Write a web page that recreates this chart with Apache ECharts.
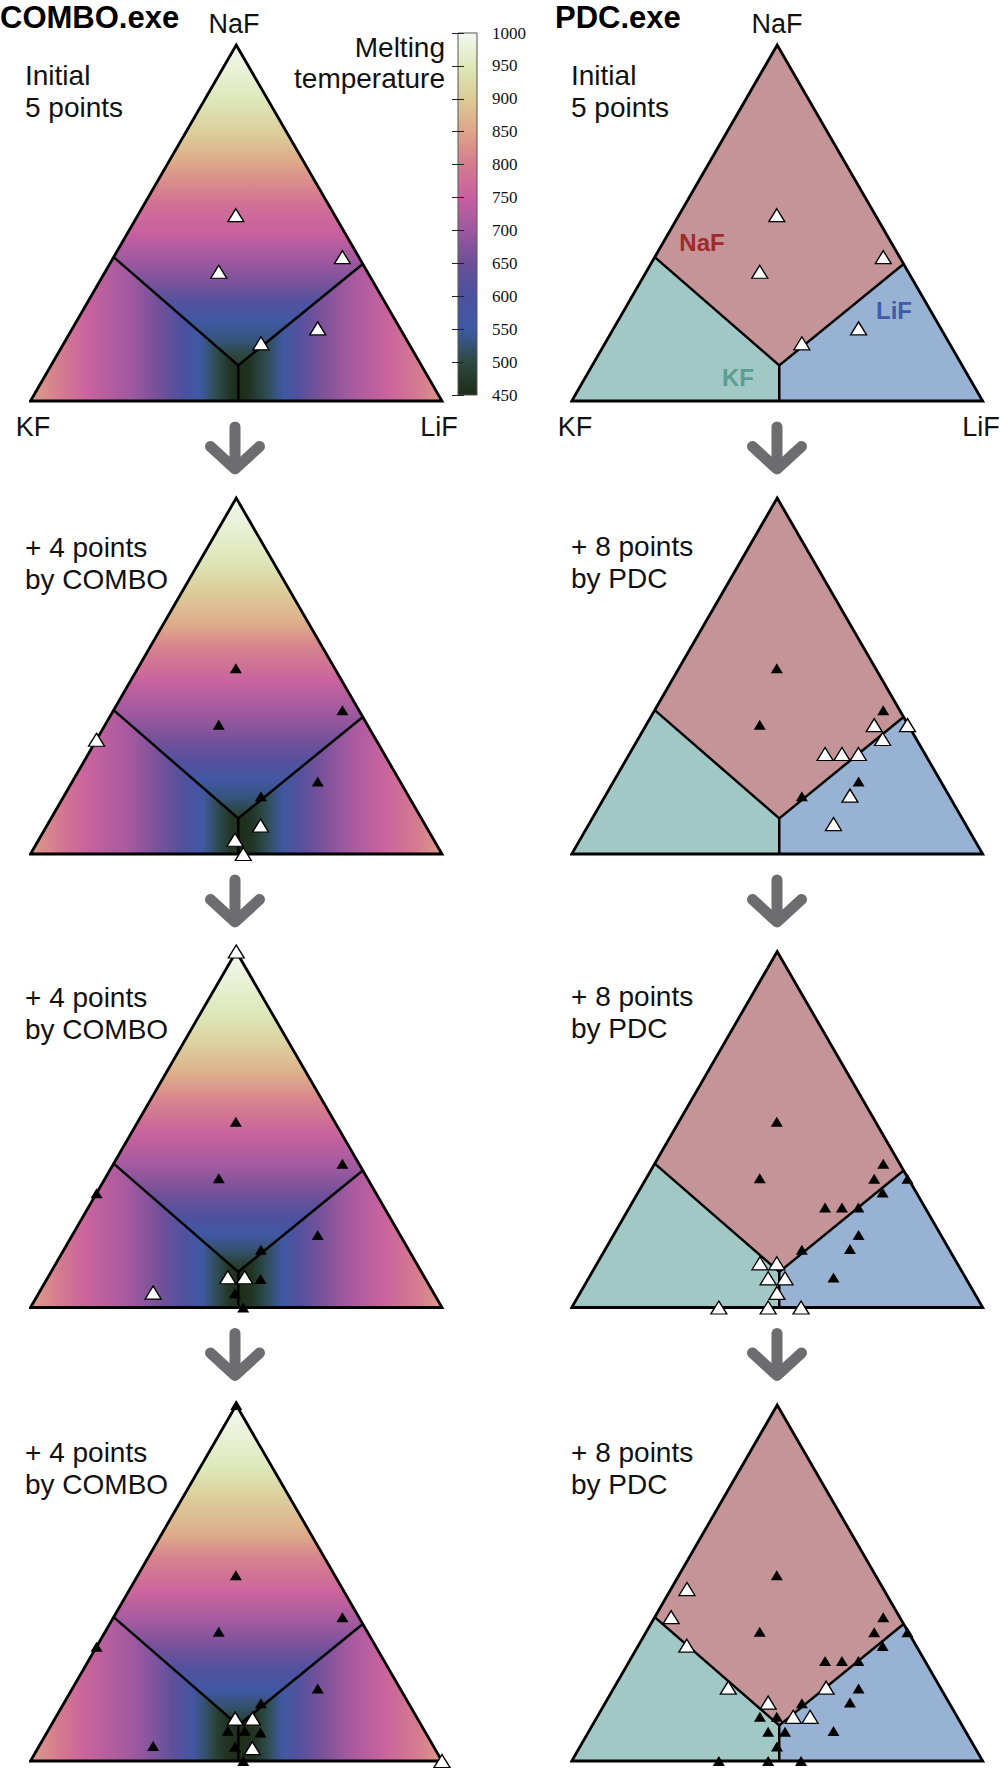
<!DOCTYPE html>
<html>
<head>
<meta charset="utf-8">
<script src="https://cdn.jsdelivr.net/npm/echarts@6/dist/echarts.min.js"></script>
<style>html,body{margin:0;padding:0;background:#fff}#chart{width:1000px;height:1769px}</style>
</head>
<body>
<div id="chart"></div>
<script>
// ---------------- data ----------------
// components at the three vertices
const vertexNames = ['NaF', 'KF', 'LiF'];
// melting temperature colour scale
const tempTicks = [450, 500, 550, 600, 650, 700, 750, 800, 850, 900, 950, 1000];
const tempColors = ['#1d2a17', '#2c4a42', '#3d5aa4', '#4b519f', '#6b4f98', '#9c58a0',
                    '#c8609f', '#d57b90', '#dfa487', '#dccb96', '#dde8b9', '#f5f8f2'];
// phase boundary nodes, compositions [xNaF, xLiF] (xKF = 1 - xNaF - xLiF)
const junctionKF_NaF = [0.404, 0.000];
const junctionLiF_NaF = [0.385, 0.615];
const eutectic = [0.100, 0.455];
const junctionKF_LiF = [0.000, 0.505];
// measured compositions [xNaF, xLiF]
const initialPoints = [[0.522, 0.238], [0.363, 0.276], [0.404, 0.556], [0.204, 0.596], [0.162, 0.479]];
const comboRound1 = [[0.321, 0.000], [0.080, 0.519], [0.040, 0.477], [0.000, 0.517]];
const comboRound2 = [[1.000, 0.000], [0.042, 0.277], [0.085, 0.437], [0.085, 0.478]];
const comboRound3 = [[0.119, 0.438], [0.119, 0.480], [0.036, 0.521], [0.000, 1.000]];
const pdcRound1 = [[0.362, 0.555], [0.362, 0.636], [0.323, 0.595], [0.281, 0.476],
                   [0.281, 0.517], [0.281, 0.557], [0.164, 0.595], [0.084, 0.595]];
const pdcRound2 = [[0.124, 0.396], [0.124, 0.437], [0.082, 0.437], [0.082, 0.478],
                   [0.041, 0.479], [0.000, 0.358], [0.000, 0.478], [0.000, 0.558]];
const pdcRound3 = [[0.483, 0.039], [0.404, 0.040], [0.324, 0.118], [0.206, 0.278],
                   [0.164, 0.396], [0.206, 0.516], [0.124, 0.477], [0.124, 0.518]];
// COMBO predicted melting temperature [xNaF, T]
const comboCenter1 = [[1.0, 1000], [0.846, 950], [0.753, 905], [0.677, 860], [0.612, 820], [0.551, 780], [0.472, 750],
                      [0.39, 700], [0.326, 660], [0.275, 610], [0.228, 560], [0.171, 530], [0.129, 495], [0.073, 465]];
const comboCenter2 = [[1.0, 1000], [0.958, 985], [0.817, 945], [0.741, 905], [0.648, 860], [0.581, 810], [0.488, 755],
                      [0.395, 705], [0.32, 660], [0.263, 615], [0.207, 565], [0.159, 530], [0.114, 490], [0.066, 460]];
const comboCenter3 = [[1.0, 1000], [0.968, 990], [0.827, 950], [0.751, 915], [0.657, 865], [0.589, 815], [0.496, 760],
                      [0.402, 710], [0.317, 655], [0.249, 600], [0.204, 560], [0.156, 520], [0.119, 480], [0.06, 458]];
const comboCenter4 = [[1.0, 1000], [0.963, 990], [0.823, 950], [0.748, 910], [0.636, 860], [0.571, 810], [0.477, 760],
                      [0.393, 710], [0.319, 660], [0.252, 605], [0.196, 560], [0.150, 520], [0.112, 485], [0.06, 460]];
// COMBO predicted melting temperature, read along the KF-LiF base [position, T]
const comboBase1 = [[0.0, 845], [0.055, 810], [0.137, 755], [0.242, 705], [0.315, 655], [0.371, 600], [0.412, 555],
                    [0.453, 505], [0.492, 460], [0.515, 455], [0.53, 462], [0.575, 510], [0.614, 560], [0.655, 615],
                    [0.704, 665], [0.776, 710], [0.866, 755], [0.946, 800], [1.0, 835]];
const comboBase2 = [[0.0, 842], [0.072, 795], [0.137, 755], [0.234, 715], [0.315, 660], [0.38, 605], [0.42, 560],
                    [0.453, 510], [0.485, 470], [0.513, 455], [0.541, 470], [0.574, 510], [0.614, 560], [0.655, 615],
                    [0.703, 660], [0.776, 710], [0.857, 755], [0.939, 800], [1.0, 838]];
const comboBase3 = [[0.0, 845], [0.07, 798], [0.14, 755], [0.235, 712], [0.315, 658], [0.378, 603], [0.418, 558],
                    [0.452, 510], [0.483, 468], [0.512, 455], [0.54, 468], [0.573, 510], [0.612, 560], [0.653, 612],
                    [0.702, 660], [0.775, 710], [0.857, 755], [0.94, 800], [1.0, 840]];
const comboBase4 = [[0.0, 840], [0.07, 798], [0.128, 760], [0.25, 705], [0.347, 630], [0.395, 570], [0.428, 520],
                    [0.452, 485], [0.48, 462], [0.512, 455], [0.545, 465], [0.575, 505], [0.612, 560], [0.653, 612],
                    [0.702, 660], [0.775, 710], [0.857, 755], [0.94, 800], [1.0, 838]];
// panel captions
const leftCaptions = ['Initial\n5 points', '+ 4 points\nby COMBO', '+ 4 points\nby COMBO', '+ 4 points\nby COMBO'];
const rightCaptions = ['Initial\n5 points', '+ 8 points\nby PDC', '+ 8 points\nby PDC', '+ 8 points\nby PDC'];

// ---------------- layout & styles ----------------
const ROW_TOP = [45, 498, 951.5, 1405];
const PANEL_H = 356;
const LEFT_X = 30.5, LEFT_W = 411.5, RIGHT_X = 571.7, RIGHT_W = 411;
const CAPTION_BASE_L = [85, 557, 1006.7, 1462];
const CAPTION_BASE_R = [85, 556, 1006, 1462];
const SANS = 'Liberation Sans, Arial, Helvetica, sans-serif';
const PHASE_FILL = { NaF: '#c59499', KF: '#a1c8c5', LiF: '#98b2d4' };

function hexToRgb(h) { return [parseInt(h.slice(1, 3), 16), parseInt(h.slice(3, 5), 16), parseInt(h.slice(5, 7), 16)]; }
function tempColor(t) {
  if (t <= tempTicks[0]) return tempColors[0];
  for (let i = 0; i < tempTicks.length - 1; i++) {
    if (t <= tempTicks[i + 1]) {
      const f = (t - tempTicks[i]) / (tempTicks[i + 1] - tempTicks[i]);
      const a = hexToRgb(tempColors[i]), b = hexToRgb(tempColors[i + 1]);
      return 'rgb(' + a.map((v, k) => Math.round(v + (b[k] - v) * f)).join(',') + ')';
    }
  }
  return tempColors[tempColors.length - 1];
}
// ternary composition [xNaF, xLiF] -> plot coordinates (KF left, LiF right, NaF top)
function toXY(p) { return [p[1] + p[0] / 2, p[0]]; }

const apexNaF = [1, 0], cornerKF = [0, 0], cornerLiF = [0, 1];

const comboCenters = [comboCenter1, comboCenter2, comboCenter3, comboCenter4];
const comboBases = [comboBase1, comboBase2, comboBase3, comboBase4];
const leftRounds = [initialPoints, comboRound1, comboRound2, comboRound3];
const rightRounds = [initialPoints, pdcRound1, pdcRound2, pdcRound3];

const grids = [], xAxes = [], yAxes = [], series = [];

function regionSeries(g, regions) {
  series.push({
    type: 'custom', xAxisIndex: g, yAxisIndex: g, z: 1, silent: true, clip: false,
    data: regions.map(() => [0.5, 0.5]),
    renderItem: function (params, api) {
      const r = regions[params.dataIndex];
      const pts = r.pts.map(p => api.coord(toXY(p)));
      let fill = r.color;
      if (r.grad) {
        const a = api.coord(r.grad.from), b = api.coord(r.grad.to);
        fill = new echarts.graphic.LinearGradient(a[0], a[1], b[0], b[1],
          r.grad.stops.map(s => ({ offset: s[0], color: tempColor(s[1]) })), true);
      }
      return { type: 'polygon', shape: { points: pts }, style: { fill: fill, stroke: fill, lineWidth: 0.5 } };
    }
  });
}
function lineSeries(g, pts, w) {
  series.push({
    type: 'line', xAxisIndex: g, yAxisIndex: g, z: 3, silent: true, clip: false,
    symbol: 'none', animation: false,
    lineStyle: { color: '#000', width: w, join: 'miter', miterLimit: 10 },
    data: pts.map(toXY)
  });
}
function pointSeries(g, prev, cur) {
  series.push({
    type: 'scatter', xAxisIndex: g, yAxisIndex: g, z: 4, silent: true, clip: false,
    symbol: 'triangle', symbolSize: [12, 10],
    itemStyle: { color: '#000', opacity: 1 },
    data: prev.map(toXY)
  });
  series.push({
    type: 'scatter', xAxisIndex: g, yAxisIndex: g, z: 5, silent: true, clip: false,
    symbol: 'triangle', symbolSize: [16, 13],
    itemStyle: { color: '#fff', borderColor: '#000', borderWidth: 1.3, opacity: 1 },
    data: cur.map(toXY)
  });
}

for (let r = 0; r < 4; r++) {
  for (let side = 0; side < 2; side++) {
    const g = r * 2 + side;
    grids.push({ left: side ? RIGHT_X : LEFT_X, top: ROW_TOP[r], width: side ? RIGHT_W : LEFT_W, height: PANEL_H });
    xAxes.push({ gridIndex: g, type: 'value', min: 0, max: 1, show: false });
    yAxes.push({ gridIndex: g, type: 'value', min: 0, max: 1, show: false });
    const nafPoly = [apexNaF, junctionLiF_NaF, eutectic, junctionKF_NaF];
    if (side === 0) {
      regionSeries(g, [
        { pts: [cornerKF, junctionKF_NaF, eutectic, junctionLiF_NaF, cornerLiF],
          grad: { from: [0, 0], to: [1, 0], stops: comboBases[r] } },
        { pts: nafPoly,
          grad: { from: [0.5, 1], to: [0.5, 0], stops: comboCenters[r].map(s => [1 - s[0], s[1]]) } }
      ]);
    } else {
      regionSeries(g, [
        { pts: nafPoly, color: PHASE_FILL.NaF },
        { pts: [cornerKF, junctionKF_NaF, eutectic, junctionKF_LiF], color: PHASE_FILL.KF },
        { pts: [junctionKF_LiF, eutectic, junctionLiF_NaF, cornerLiF], color: PHASE_FILL.LiF }
      ]);
    }
    lineSeries(g, [junctionKF_NaF, eutectic, junctionLiF_NaF], 2.5);
    lineSeries(g, [eutectic, junctionKF_LiF], 2.5);
    lineSeries(g, [cornerKF, cornerLiF, apexNaF, cornerKF, cornerLiF], 2.8);
    const rounds = side ? rightRounds : leftRounds;
    let prev = [];
    for (let k = 0; k < r; k++) prev = prev.concat(rounds[k]);
    pointSeries(g, prev, rounds[r]);
  }
}

// colour bar
grids.push({ left: 458, top: 33, width: 19, height: 362 });
xAxes.push({ gridIndex: 8, type: 'value', min: 0, max: 1, show: false });
const cbAxis = {
  gridIndex: 8, type: 'value', min: 450, max: 1000, interval: 50, z: 6,
  axisLine: { show: false }, splitLine: { show: false },
  axisTick: { show: true, inside: true, length: 6, lineStyle: { color: '#222', width: 1 } }
};
yAxes.push(Object.assign({}, cbAxis, { position: 'right',
  axisLabel: { margin: 15, fontFamily: 'Liberation Serif, Times New Roman, serif', fontSize: 17, color: '#111',
    formatter: function (v) { return String(v); } } }));
yAxes.push(Object.assign({}, cbAxis, { position: 'left', axisLabel: { show: false } }));
series.push({
  type: 'custom', xAxisIndex: 8, yAxisIndex: 8, z: 1, silent: true, clip: false,
  data: [[0, 450]],
  renderItem: function (params, api) {
    const p0 = api.coord([0, 1000]), p1 = api.coord([1, 450]);
    const stops = tempTicks.slice().reverse().map(t => ({ offset: (1000 - t) / 550, color: tempColor(t) }));
    return { type: 'rect', shape: { x: p0[0], y: p0[1], width: p1[0] - p0[0], height: p1[1] - p0[1] },
      style: { fill: new echarts.graphic.LinearGradient(0, 0, 0, 1, stops), stroke: '#555', lineWidth: 1 } };
  }
});

// ---------------- texts & arrows ----------------
const graphics = [];
function txt(text, x, y, size, opts) {
  opts = opts || {};
  graphics.push({ type: 'text', x: x, y: y, z: 10, silent: true,
    style: { text: text, fontSize: size, fontFamily: SANS, fontWeight: opts.bold ? 'bold' : 'normal',
      fill: opts.color || '#111', align: opts.align || 'left', textAlign: opts.align || 'left',
      verticalAlign: opts.valign || 'middle', textVerticalAlign: opts.valign || 'middle',
      lineHeight: opts.lh || size } });
}
txt('COMBO.exe', 0, 17, 31, { bold: true, color: '#000' });
txt('PDC.exe', 555, 17, 31, { bold: true, color: '#000' });
txt(vertexNames[0], 234, 24, 27, { align: 'center' });
txt(vertexNames[0], 777, 24, 27, { align: 'center' });
txt(vertexNames[1], 33, 426.5, 27, { align: 'center' });
txt(vertexNames[2], 439, 426.5, 27, { align: 'center' });
txt(vertexNames[1], 575, 426.5, 27, { align: 'center' });
txt(vertexNames[2], 981, 426.5, 27, { align: 'center' });
txt('Melting\ntemperature', 445, 31.8, 28, { align: 'right', valign: 'top', lh: 31 });
for (let r = 0; r < 4; r++) {
  txt(leftCaptions[r], 25, CAPTION_BASE_L[r] - 25.7, 28, { valign: 'top', lh: 32 });
  txt(rightCaptions[r], 571, CAPTION_BASE_R[r] - 25.7, 28, { valign: 'top', lh: 32 });
}
txt('NaF', 702, 242, 24, { bold: true, align: 'center', color: '#9e2a2b' });
txt('KF', 738, 377.5, 24, { bold: true, align: 'center', color: '#5c9e92' });
txt('LiF', 894, 310, 24, { bold: true, align: 'center', color: '#3e5ca8' });

for (let r = 0; r < 3; r++) {
  const dy = ROW_TOP[r] - ROW_TOP[0];
  [235, 777].forEach(function (cx) {
    const st = { stroke: '#6d6d70', lineWidth: 11, lineCap: 'round', lineJoin: 'round', fill: null };
    graphics.push({ type: 'polyline', z: 10, silent: true, shape: { points: [[cx, 427 + dy], [cx, 466 + dy]] }, style: st });
    graphics.push({ type: 'polyline', z: 10, silent: true,
      shape: { points: [[cx - 24.5, 446.5 + dy], [cx, 469 + dy], [cx + 24.5, 446.5 + dy]] }, style: st });
  });
}

const chart = echarts.init(document.getElementById('chart'), null, { renderer: 'svg', width: 1000, height: 1769 });
chart.setOption({
  animation: false,
  backgroundColor: '#fff',
  grid: grids,
  xAxis: xAxes,
  yAxis: yAxes,
  series: series,
  graphic: { elements: graphics }
});
</script>
</body>
</html>
